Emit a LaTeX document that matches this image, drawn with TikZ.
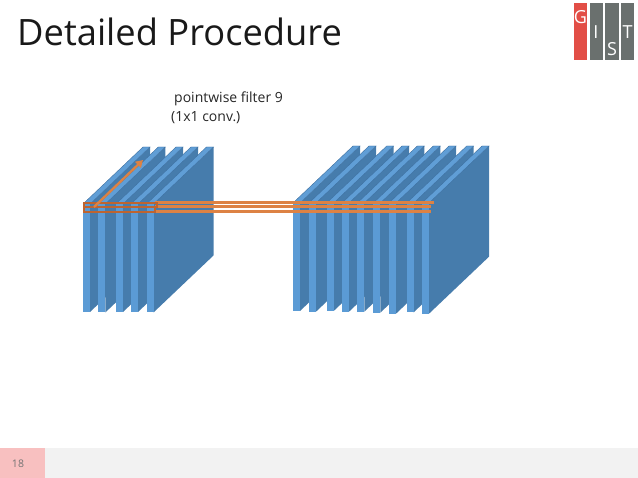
\documentclass[tikz,border=0pt]{standalone}
\usepackage{fontspec}
\setmainfont{Open Sans}
\usepackage{xcolor}
\definecolor{gistRed}{RGB}{226, 78, 70}
\definecolor{gistGray}{RGB}{106, 112, 110}
\definecolor{plateFront}{RGB}{91, 155, 213}
\definecolor{plateSide}{RGB}{70, 124, 172}
\definecolor{plateTop}{RGB}{96, 158, 214}
\definecolor{plateEdge}{RGB}{62, 112, 160}
\definecolor{bandLine}{RGB}{221, 130, 68}
\definecolor{bandDark}{RGB}{190, 100, 48}
\definecolor{footGray}{RGB}{242, 242, 242}
\definecolor{footPink}{RGB}{248, 192, 192}
\usetikzlibrary{arrows.meta}
\newcommand{\plate}[3]{%
    \fill[plateSide] (#1+7, #3) -- (#1+67, #3-57) -- (#1+67, #2-57) -- (#1+7, #2) -- cycle;
    \fill[plateTop] (#1, #2) -- (#1+60, #2-57) -- (#1+67, #2-57) -- (#1+7, #2) -- cycle;
    \draw[plateEdge, line width=0.4pt] (#1, #2) -- (#1+60, #2-57) -- (#1+67, #2-57) -- (#1+7, #2);
    \fill[plateFront] (#1, #2) rectangle (#1+7, #3);
}
\begin{document}
\begin{tikzpicture}[
    x=1pt, y=-1pt,
    titleText/.style={
        font=\fontsize{36.3}{36}\selectfont, text=black!90, inner sep=0pt, anchor=base west
    },
    noteText/.style={
        font=\fontsize{14}{14}\selectfont, text=black!85, inner sep=0pt, anchor=base west
    },
    logoBar/.style={
        fill=gistGray
    },
    logoText/.style={
        font=\fontsize{18}{18}\selectfont, text=white, inner sep=0pt
    },
    bandBox/.style={
        draw=bandDark, line width=2.6pt
    },
    bandRule/.style={
        draw=bandLine, line width=3pt
    },
    pathArrow/.style={
        -{Triangle[length=7pt,width=8pt]}, draw=bandLine, line width=2.4pt
    }
]
    \useasboundingbox (0, 0) rectangle (638, 478);

    % Footer
    \fill[footGray] (0, 448) rectangle (638, 478);
    \fill[footPink] (0, 448) rectangle (45, 478);
    \node[inner sep=0pt, font=\fontsize{10.5}{10.5}\selectfont, text=black!55] (pageNum) at (18, 464) {18};

    % Logo
    \fill[gistRed] (574, 3) rectangle (587, 60);
    \fill[logoBar] (589.5, 3) rectangle (603, 60);
    \fill[logoBar] (605, 3) rectangle (618.5, 60);
    \fill[logoBar] (621, 3) rectangle (634, 60);
    \node[logoText] (logoG) at (580.5, 17) {G};
    \node[logoText] (logoI) at (596, 32) {I};
    \node[logoText] (logoS) at (612, 49) {S};
    \node[logoText] (logoT) at (627.5, 32) {T};

    % Title and note
    \node[titleText] (title) at (17, 46) {Detailed Procedure};
    \node[noteText] (noteA) at (174, 103) {pointwise filter 9};
    \node[noteText] (noteB) at (171, 122) {(1x1 conv.)};

    % Left stack
    \plate{83}{204}{312}
    \plate{98.3}{204}{312.5}
    \plate{116}{204}{312}
    \plate{131}{204}{312}
    \plate{146.5}{204}{312.5}

    % Right stack
    \plate{293}{203}{311}
    \plate{309}{203}{311.7}
    \plate{326.7}{203}{311}
    \plate{342}{203}{311.7}
    \plate{357.3}{203}{311.7}
    \plate{373.3}{203}{312.7}
    \plate{389}{203}{313.7}
    \plate{406.7}{203}{312.3}
    \plate{422}{203}{313.7}

    % Rules between stacks
    \coordinate (ruleA) at (155, 202.7);
    \coordinate (ruleAend) at (434, 202.7);
    \coordinate (ruleB) at (155, 206.4);
    \coordinate (ruleBend) at (431, 206.4);
    \coordinate (ruleC) at (155, 211.3);
    \coordinate (ruleCend) at (431, 211.3);
    \draw[bandRule] (ruleA) -- (ruleAend);
    \draw[bandRule] (ruleB) -- (ruleBend);
    \draw[bandRule] (ruleC) -- (ruleCend);

    % Selection on the left stack
    \draw[bandBox] (84, 203.2) rectangle (157, 207.2);
    \draw[bandBox] (84, 207.2) rectangle (155, 212);

    % Depth arrow
    \coordinate (arrowFrom) at (94, 207);
    \coordinate (arrowTo) at (143, 160);
    \draw[pathArrow] (arrowFrom) -- (arrowTo);

\end{tikzpicture}
\end{document}
